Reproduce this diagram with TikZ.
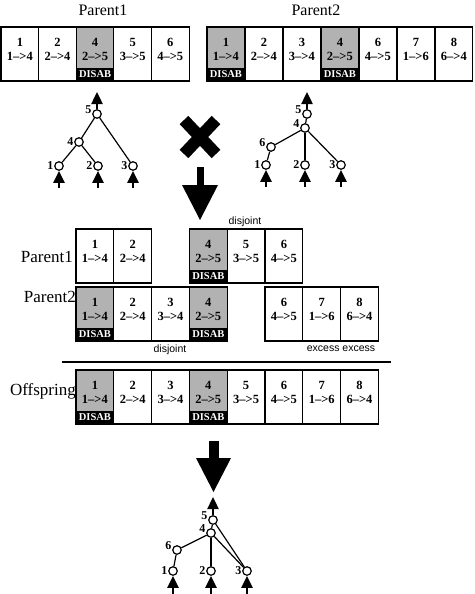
\documentclass[tikz,border=0pt]{standalone}
\usepackage{fontspec}
\setmainfont{Liberation Serif}
\setsansfont{Liberation Sans}
\usetikzlibrary{arrows.meta}
\tikzset{
  gene/.style={draw, line width=1.1pt, minimum width=37.8pt, minimum height=54pt, inner sep=0pt, outer sep=0pt, anchor=north west, fill=white},
  gdis/.style={gene, fill=gray!60},
  gnum/.style={font=\fontsize{12.5}{12.5}\selectfont\bfseries, inner sep=0pt},
  gcon/.style={font=\fontsize{12.5}{12.5}\selectfont\bfseries, inner sep=0pt},
  disab/.style={fill=black, text=white, font=\fontsize{10.5}{10.5}\selectfont\bfseries, minimum width=37.8pt, minimum height=12pt, inner sep=0pt, anchor=south},
  title/.style={font=\fontsize{16}{16}\selectfont, inner sep=0pt},
  rowlbl/.style={font=\fontsize{17}{17}\selectfont, inner sep=0pt, anchor=east},
  note/.style={font=\sffamily\fontsize{10.5}{10.5}\selectfont, inner sep=0pt},
  neuron/.style={circle, draw, line width=1.2pt, minimum size=8.5pt, inner sep=0pt, fill=white},
  nlbl/.style={font=\fontsize{12}{12}\selectfont\bfseries, inner sep=0.5pt},
  link/.style={line width=1.2pt},
  io/.style={line width=2.4pt, -{Triangle[width=11pt,length=12pt]}},
}
\newcommand\gbox[5]{%
  \node[gene] (#1) at (#2,#3) {};
  \node[gnum] at ([yshift=-15pt]#1.north) {#4};
  \node[gcon] at ([yshift=-29pt]#1.north) {#5};
}
\newcommand\dbox[5]{%
  \node[gdis] (#1) at (#2,#3) {};
  \node[gnum] at ([yshift=-15pt]#1.north) {#4};
  \node[gcon] at ([yshift=-29pt]#1.north) {#5};
  \node[disab] at ([yshift=0.6pt]#1.south) {DISAB};
}
\begin{document}
\begin{tikzpicture}[x=1pt, y=-1pt]
\useasboundingbox (0,0) rectangle (474,594);

% ---------- titles ----------
\node[title] (t1) at (103,10) {Parent1};
\node[title] (t2) at (316,10) {Parent2};

% ---------- top Parent1 genome ----------
\gbox{a1}{1}{27}{1}{1–>4}
\gbox{a2}{38.6}{27}{2}{2–>4}
\dbox{a4}{76.2}{27}{4}{2–>5}
\gbox{a5}{113.8}{27}{5}{3–>5}
\gbox{a6}{151.4}{27}{6}{4–>5}

% ---------- top Parent2 genome ----------
\dbox{b1}{207}{27}{1}{1–>4}
\gbox{b2}{245}{27}{2}{2–>4}
\gbox{b3}{283}{27}{3}{3–>4}
\dbox{b4}{321}{27}{4}{2–>5}
\gbox{b6}{359}{27}{6}{4–>5}
\gbox{b7}{397}{27}{7}{1–>6}
\gbox{b8}{435}{27}{8}{6–>4}

% ---------- Parent1 network ----------
\node[neuron] (p5) at (97,114) {};
\node[neuron] (p4) at (79,142) {};
\node[neuron] (p1) at (59,166) {};
\node[neuron] (p2) at (98,166) {};
\node[neuron] (p3) at (133,166) {};
\node[nlbl, anchor=south east] at (p5.west) {5};
\node[nlbl, anchor=east] at (p4.west) {4};
\node[nlbl, anchor=east] at (p1.west) {1};
\node[nlbl, anchor=east] at (p2.west) {2};
\node[nlbl, anchor=east] at (p3.west) {3};
\draw[link] (p1) -- (p4);
\draw[link] (p2) -- (p4);
\draw[link] (p4) -- (p5);
\draw[link] (p3) -- (p5);
\coordinate (p5o) at (97,92);
\coordinate (p1i) at (59,188);
\coordinate (p2i) at (98,188);
\coordinate (p3i) at (133,188);
\draw[io] (p5) -- (p5o);
\draw[io] (p1i) -- (p1);
\draw[io] (p2i) -- (p2);
\draw[io] (p3i) -- (p3);

% ---------- Parent2 network ----------
\node[neuron] (q5) at (307,114) {};
\node[neuron] (q4) at (305,128) {};
\node[neuron] (q6) at (271,147) {};
\node[neuron] (q1) at (266,165) {};
\node[neuron] (q2) at (305,165) {};
\node[neuron] (q3) at (341,165) {};
\node[nlbl, anchor=south east] at (q5.west) {5};
\node[nlbl, anchor=south east] at (q4.west) {4};
\node[nlbl, anchor=south east] at (q6.west) {6};
\node[nlbl, anchor=east] at (q1.west) {1};
\node[nlbl, anchor=east] at (q2.west) {2};
\node[nlbl, anchor=east] at (q3.west) {3};
\draw[link] (q1) -- (q6);
\draw[link] (q6) -- (q4);
\draw[link] (q2) -- (q4);
\draw[link] (q3) -- (q4);
\draw[link] (q4) -- (q5);
\coordinate (q5o) at (307,92);
\coordinate (q1i) at (266,187);
\coordinate (q2i) at (305,187);
\coordinate (q3i) at (341,187);
\draw[io] (q5) -- (q5o);
\draw[io] (q1i) -- (q1);
\draw[io] (q2i) -- (q2);
\draw[io] (q3i) -- (q3);

% ---------- cross and arrow ----------
\draw[line width=12pt] (184,120) -- (216,154);
\draw[line width=12pt] (216,120) -- (184,154);
\fill (196.5,167) rectangle (203.5,186);
\fill (182,185) -- (218,185) -- (200,220) -- cycle;

% ---------- aligned genomes ----------
\node[note] (dj1) at (245,222) {disjoint};
\node[rowlbl] (l1) at (73,257) {Parent1};
\gbox{c1}{76}{229}{1}{1–>4}
\gbox{c2}{113.8}{229}{2}{2–>4}
\dbox{c4}{189.4}{229}{4}{2–>5}
\gbox{c5}{227.2}{229}{5}{3–>5}
\gbox{c6}{265}{229}{6}{4–>5}

\node[rowlbl] (l2) at (76,297) {Parent2};
\dbox{d1}{76}{287}{1}{1–>4}
\gbox{d2}{113.8}{287}{2}{2–>4}
\gbox{d3}{151.6}{287}{3}{3–>4}
\dbox{d4}{189.4}{287}{4}{2–>5}
\gbox{d6}{265}{287}{6}{4–>5}
\gbox{d7}{302.8}{287}{7}{1–>6}
\gbox{d8}{340.6}{287}{8}{6–>4}

\node[note] (dj2) at (170,350) {disjoint};
\node[note] (ex) at (341,349) {excess excess};

\coordinate (hl) at (62,362);
\coordinate (hr) at (391,362);
\draw[line width=1.5pt] (hl) -- (hr);

% ---------- offspring ----------
\node[rowlbl] (l3) at (76,391) {Offspring};
\dbox{o1}{76}{370}{1}{1–>4}
\gbox{o2}{113.8}{370}{2}{2–>4}
\gbox{o3}{151.6}{370}{3}{3–>4}
\dbox{o4}{189.4}{370}{4}{2–>5}
\gbox{o5}{227.2}{370}{5}{3–>5}
\gbox{o6}{265}{370}{6}{4–>5}
\gbox{o7}{302.8}{370}{7}{1–>6}
\gbox{o8}{340.6}{370}{8}{6–>4}

% ---------- big arrow ----------
\fill (209,441) rectangle (219,459);
\fill (196,458) -- (231,458) -- (213.5,492) -- cycle;

% ---------- offspring network ----------
\node[neuron] (r5) at (213,520) {};
\node[neuron] (r4) at (211,533) {};
\node[neuron] (r6) at (177,550) {};
\node[neuron] (r1) at (173,571) {};
\node[neuron] (r2) at (211,571) {};
\node[neuron] (r3) at (247,571) {};
\node[nlbl, anchor=south east] at (r5.west) {5};
\node[nlbl, anchor=south east] at (r4.west) {4};
\node[nlbl, anchor=south east] at (r6.west) {6};
\node[nlbl, anchor=east] at (r1.west) {1};
\node[nlbl, anchor=east] at (r2.west) {2};
\node[nlbl, anchor=east] at (r3.west) {3};
\draw[link] (r1) -- (r6);
\draw[link] (r6) -- (r4);
\draw[link] (r2) -- (r4);
\draw[link] (r3) -- (r4);
\draw[link] (r3) -- (r5);
\draw[link] (r4) -- (r5);
\coordinate (r5o) at (213,497);
\coordinate (r1i) at (173,594);
\coordinate (r2i) at (211,594);
\coordinate (r3i) at (247,594);
\draw[io] (r5) -- (r5o);
\draw[io] (r1i) -- (r1);
\draw[io] (r2i) -- (r2);
\draw[io] (r3i) -- (r3);
\end{tikzpicture}
\end{document}
